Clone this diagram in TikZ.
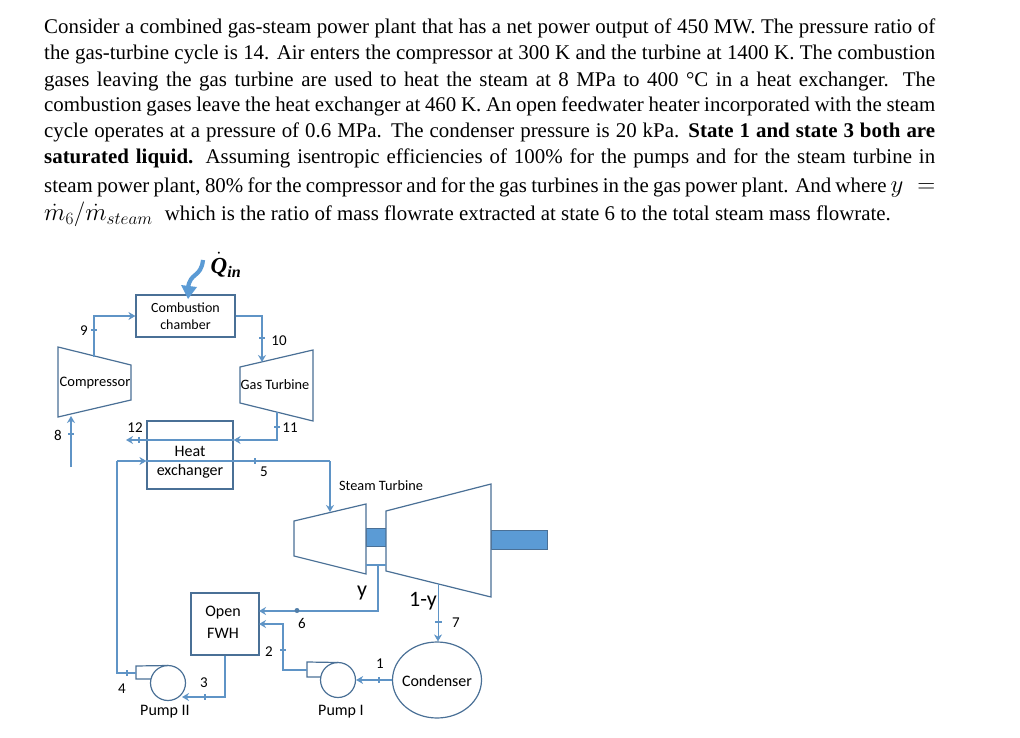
\documentclass[tikz,border=0pt]{standalone}
\usepackage{amsmath}
\usepackage{fontspec}
\setmainfont{Liberation Serif}
\newfontfamily\labelfont{Carlito}
\usetikzlibrary{arrows.meta,positioning,calc,shapes.geometric}
\definecolor{pipeblue}{HTML}{5F94C6}
\definecolor{edgeblue}{HTML}{4A7096}
\definecolor{shaftblue}{HTML}{5B9BD5}
\newcommand{\fullline}[1]{\hbox to 891pt{#1}}
\begin{document}
\begin{tikzpicture}[x=1pt, y=-1pt,
    textline/.style={anchor=base west, inner sep=0pt, font=\fontsize{20.9}{24}\selectfont},
    unitbox/.style={draw=edgeblue, line width=1.2pt, align=center, inner sep=0pt, font=\labelfont\fontsize{14}{17}\selectfont},
    casing/.style={draw=edgeblue, line width=1.2pt, fill=white},
    shaft/.style={draw=edgeblue, line width=0.8pt, fill=shaftblue},
    pipe/.style={draw=pipeblue, line width=1.3pt},
    flow/.style={pipe, -{Stealth[length=7pt,width=8pt]}},
    unitname/.style={inner sep=0pt, align=center, font=\labelfont\fontsize{14.3}{17}\selectfont},
    bigname/.style={inner sep=0pt, align=center, font=\labelfont\fontsize{16}{19}\selectfont},
    statenum/.style={inner sep=0pt, font=\labelfont\fontsize{15}{18}\selectfont},
    splitname/.style={inner sep=0pt, font=\labelfont\fontsize{22}{26}\selectfont},
    tickv/.style={fill=pipeblue, inner sep=0pt, minimum width=6pt, minimum height=2.5pt},
    tickh/.style={fill=pipeblue, inner sep=0pt, minimum width=2.5pt, minimum height=6pt}]
    \useasboundingbox (0,0) rectangle (1020,738);
    % problem statement
    \node[textline] (L1) at (44,34) {\fullline{Consider a combined gas-steam power plant that has a net power output of 450 MW. The pressure ratio of}};
    \node[textline] (L2) at (44,60) {\fullline{the gas-turbine cycle is 14. Air enters the compressor at 300 K and the turbine at 1400 K. The combustion}};
    \node[textline] (L3) at (44,87) {\fullline{gases leaving the gas turbine are used to heat the steam at 8 MPa to 400 °C in a heat exchanger. The}};
    \node[textline] (L4) at (44,112) {\fullline{combustion gases leave the heat exchanger at 460 K. An open feedwater heater incorporated with the steam}};
    \node[textline] (L5) at (44,138) {\fullline{cycle operates at a pressure of 0.6 MPa. The condenser pressure is 20 kPa. \textbf{State 1 and state 3 both are}}};
    \node[textline] (L6) at (44,164) {\fullline{\textbf{saturated liquid.} Assuming isentropic efficiencies of 100\% for the pumps and for the steam turbine in}};
    \node[textline] (L7) at (44,193) {\hbox to 891pt{steam power plant, 80\% for the compressor and for the gas turbines in the gas power plant. And where {\fontsize{24}{28}\selectfont$y\;=$}}};
    \node[textline] (L8) at (44,221) {{\fontsize{25}{28}\selectfont$\dot{m}_6/\dot{m}_{steam}$}\hspace{12pt}which is the ratio of mass flowrate extracted at state 6 to the total steam mass flowrate.};

    % gas cycle
    \node[unitbox, minimum width=99pt, minimum height=42pt] (CC) at (185.5,316) {Combustion\\chamber};
    \node[unitbox, minimum width=86pt, minimum height=68pt] (HX) at (190,455) {};
    \node[bigname] (HXa) at (190,451) {Heat};
    \node[bigname] (HXb) at (190,471) {exchanger};
    \draw[casing] (58,347) -- (131,365) -- (131,400) -- (58,417) -- cycle;
    \draw[casing] (240,367) -- (313,350) -- (313,421) -- (240,403) -- cycle;
    \node[unitname, font=\labelfont\fontsize{14.5}{18}\selectfont] (Comp) at (95,383) {Compressor};
    \node[unitname] (GT) at (275,385) {Gas Turbine};
    \coordinate (Comp9) at (94,357);
    \coordinate (Comp8) at (71,416);
    \coordinate (Air) at (71,467);
    \coordinate (GT10) at (262,362);
    \coordinate (GT11) at (277,412);
    \coordinate (Ex12) at (126,440);
    \coordinate (Qa) at (203,260);
    \coordinate (Qb) at (188,299);
    \draw[flow] (Air) -- (Comp8);
    \draw[flow] (Comp9) |- (CC.west);
    \draw[flow] (CC.east) -| (GT10);
    \draw[flow] (GT11) |- (HX.east |- Ex12);
    \draw[flow] (HX.east |- Ex12) -- (Ex12);
    \draw[draw=shaftblue, line width=4.2pt] (Qa) .. controls (201,278) and (190,272) .. ($(Qb)+(0,-11)$);
    \draw[draw=none, fill=shaftblue] (Qb) -- (181,285) -- (197,287) -- cycle;
    \node[inner sep=0pt] (Qin) at (226,265) {\fontsize{23}{26}\selectfont$\dot{\text{\bfseries\itshape Q}}_{\text{\bfseries\itshape in}}$};
    \node[tickv] (t8) at (71,434) {};
    \node[tickv] (t9) at (94,330) {};
    \node[tickv] (t10) at (262,338) {};
    \node[tickv] (t11) at (277,427) {};
    \node[tickh] (t12) at (139,440) {};
    \node[statenum] (n8) at (58,435) {8};
    \node[statenum] (n9) at (84,331) {9};
    \node[statenum] (n10) at (279,341) {10};
    \node[statenum] (n11) at (290,428) {11};
    \node[statenum] (n12) at (135,428) {12};

    % steam cycle
    \draw[shaft] (366,528) rectangle (386,546);
    \draw[shaft] (491,530) rectangle (547,549);
    \draw[casing] (294,521) -- (366,504) -- (366,574) -- (294,556) -- cycle;
    \draw[casing] (386,511) -- (491,484) -- (491,597) -- (386,571) -- cycle;
    \node[unitname] (ST) at (381,486) {Steam Turbine};
    \node[unitbox, minimum width=68pt, minimum height=62pt] (FWH) at (225,624) {};
    \node[bigname] (FWHa) at (223,613) {Open};
    \node[bigname] (FWHb) at (223,633) {FWH};
    \node[draw=edgeblue, line width=1.2pt, circle, fill=white, minimum size=35pt, inner sep=0pt] (P2) at (168,683) {};
    \node[draw=edgeblue, line width=1.2pt, circle, fill=white, minimum size=35pt, inner sep=0pt] (P1) at (338,680) {};
    \node[draw=edgeblue, line width=1.2pt, ellipse, minimum width=89pt, minimum height=76pt, inner sep=0pt] (Cond) at (437,680) {};
    \node[bigname] (CondN) at (437,681) {Condenser};
    \draw[casing, fill=none] (168,665.5) -- (136,666) -- (136,679) -- (151,679);
    \draw[casing, fill=none] (338,662.5) -- (307,662) -- (307,677) -- (321,677);
    \node[bigname] (P2n) at (165,712) {Pump II};
    \node[bigname] (P1n) at (341,712) {Pump I};
    \coordinate (ST5) at (330,512);
    \coordinate (Bleed) at (378,565);
    \coordinate (LP7) at (438,584);
    \coordinate (B4) at (136,673);
    \coordinate (B2) at (307,670);
    \coordinate (F6) at (259,611);
    \coordinate (F2) at (259,624);
    \coordinate (HXin) at (117,461);
    \draw[pipe] (366,565) -- (386,565);
    \draw[pipe] (B4) -| (HXin);
    \draw[flow] (HXin) -- (HX.west |- HXin);
    \draw[pipe] (HX.west |- HXin) -- (330,461);
    \draw[flow] (330,461) -- (ST5);
    \draw[flow] (Bleed) |- (F6);
    \draw[flow] (B2) -| (283,624) -- (F2);
    \draw[flow] (FWH.south) |- (182,697);
    \draw[flow] (Cond.west) -- (P1.east);
    \draw[flow, line width=0.8pt] (LP7) -- (Cond.north -| LP7);
    \node[circle, fill=pipeblue!85!black, inner sep=0pt, minimum size=5pt] (d6) at (297,610.5) {};
    \node[tickh] (t4) at (127,673) {};
    \node[tickh] (t5) at (255,461) {};
    \node[tickv] (t2) at (283,650) {};
    \node[tickh] (t3) at (205,697) {};
    \node[tickh] (t1) at (379,680) {};
    \node[tickv, minimum width=7pt] (t7) at (438,622) {};
    \node[statenum] (n1) at (380,664) {1};
    \node[statenum] (n2) at (269,652) {2};
    \node[statenum] (n3) at (204,683) {3};
    \node[statenum] (n4) at (122,689) {4};
    \node[statenum] (n5) at (264,472) {5};
    \node[statenum] (n6) at (302,623) {6};
    \node[statenum] (n7) at (456,623) {7};
    \node[splitname] (ny) at (362,593) {y};
    \node[splitname] (nly) at (423,601) {1-y};
\end{tikzpicture}
\end{document}
